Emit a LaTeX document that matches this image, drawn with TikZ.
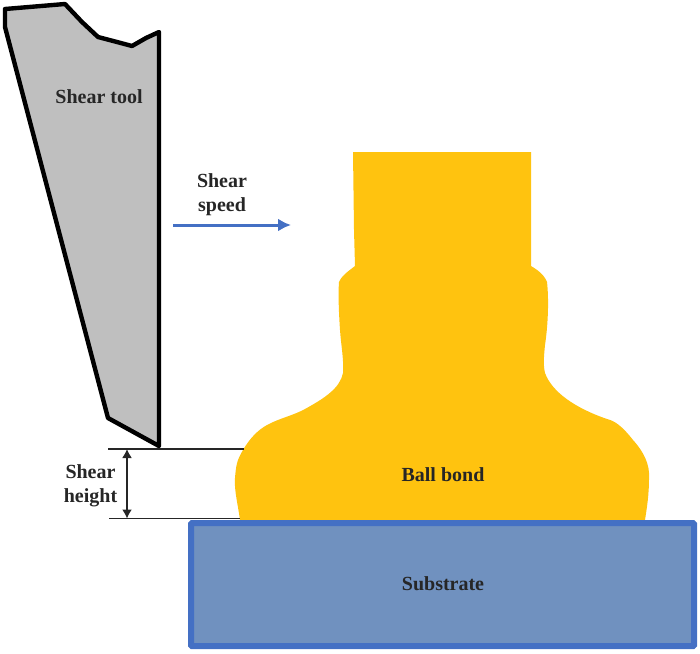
\documentclass[tikz,border=0pt]{standalone}
\usepackage{fontspec}
\setmainfont{Liberation Serif}
\usetikzlibrary{arrows.meta}
\definecolor{ballc}{HTML}{FFC30F}
\definecolor{subfill}{HTML}{7091BF}
\definecolor{subline}{HTML}{4470C4}
\definecolor{toolfill}{HTML}{BFBFBF}
\definecolor{inkc}{HTML}{262626}
\tikzset{
  lab/.style={font=\fontsize{20}{20}\selectfont\bfseries, text=inkc, inner sep=0pt, align=center},
  tool/.style={draw=black, line width=4.4pt, fill=toolfill, line join=round},
  ball/.style={fill=ballc, draw=none},
  substrate/.style={draw=subline, line width=6pt, fill=subfill, rounded corners=1pt},
  dimline/.style={draw=inkc, line width=1.5pt},
  dimarrow/.style={draw=inkc, line width=1.5pt, {Latex[length=9pt,width=10pt]}-{Latex[length=9pt,width=10pt]}},
  speedarrow/.style={draw=subline, line width=3pt, -{Latex[length=13pt,width=13pt]}}
}
\begin{document}
\begin{tikzpicture}[x=1pt,y=-1pt]
\useasboundingbox (0,0) rectangle (700,653);
% ball bond
\fill[ball] (353,152) -- (531,152) -- (531,266)
  .. controls (536,269) and (544,274) .. (547,282)
  .. controls (549,300) and (548,325) .. (545,345)
  .. controls (544,355) and (543,365) .. (545,373)
  .. controls (552,392) and (575,408) .. (607,419)
  .. controls (615,421) and (622,426) .. (633,440)
  .. controls (644,452) and (650,465) .. (649,478)
  .. controls (649,495) and (647,507) .. (645,520)
  -- (240,520)
  .. controls (238,505) and (234,490) .. (235,478)
  .. controls (236,465) and (237,460) .. (243,450)
  .. controls (250,438) and (258,430) .. (267,425)
  .. controls (280,418) and (292,416) .. (305,409)
  .. controls (325,398) and (340,388) .. (343,373)
  .. controls (344,360) and (341,345) .. (340,330)
  .. controls (339,315) and (338,295) .. (339,282)
  .. controls (342,275) and (350,270) .. (355,266)
  -- (354,230) -- cycle;
% substrate
\node[substrate, minimum width=503pt, minimum height=123pt, inner sep=0pt, anchor=north west] (sub) at (188,520) {};
\node[lab] (subl) at (443,584) {Substrate};
\node[lab] (balll) at (443,475) {Ball bond};
% tool
\draw[tool] (5,9) -- (65,4) -- (82,22) -- (98,37) -- (117,42) -- (132,46) -- (146,38) -- (159,32) -- (159,446) -- (108,418) -- (5,27) -- cycle;
\node[lab] (tooll) at (99,97) {Shear tool};
% shear speed
\node[lab] (speedl) at (222,194.5) {Shear\\[4pt]speed};
\coordinate (sa) at (173,225);
\coordinate (sb) at (291,225);
\draw[speedarrow] (sa) -- (sb);
% shear height
\coordinate (h1a) at (108,449);
\coordinate (h1b) at (244,449);
\coordinate (h2a) at (109,518.5);
\coordinate (h2b) at (240,518.5);
\coordinate (va) at (127,449);
\coordinate (vb) at (127,518.5);
\draw[dimline] (h1a) -- (h1b);
\draw[dimline] (h2a) -- (h2b);
\draw[dimarrow] (va) -- (vb);
\node[lab] (heightl) at (90.5,485.5) {Shear\\[4pt]height};
\end{tikzpicture}
\end{document}
